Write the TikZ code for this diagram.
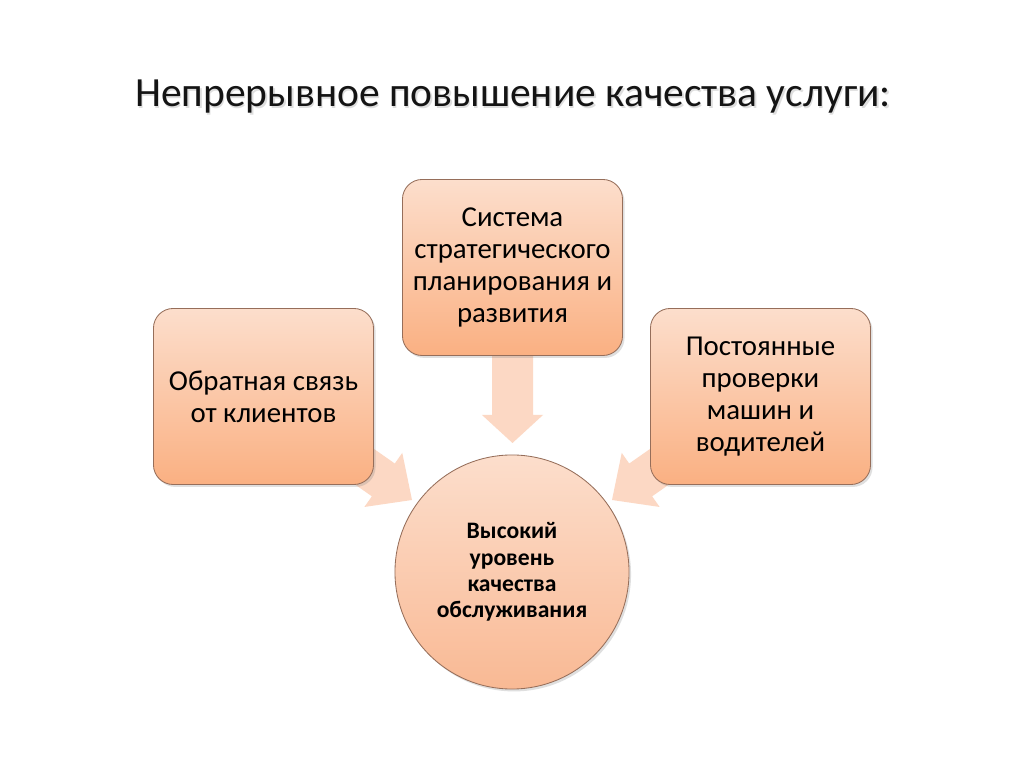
\documentclass[tikz,border=0pt]{standalone}
\usepackage{fontspec}
\setmainfont{Carlito}
\usetikzlibrary{shadows}
\definecolor{boxtop}{RGB}{252,222,204}
\definecolor{boxbot}{RGB}{250,176,130}
\definecolor{boxline}{RGB}{150,110,90}
\definecolor{arrowfill}{RGB}{252,212,190}
\definecolor{titlecol}{RGB}{20,20,20}
\tikzset{
  card/.style={rectangle, rounded corners=14pt, draw=boxline, line width=0.6pt,
    top color=boxtop, bottom color=boxbot, align=center,
    minimum width=5.5cm, minimum height=4.4cm, inner sep=2pt,
    font=\fontsize{20.5}{22.7}\selectfont,
    drop shadow={opacity=0.25, shadow xshift=0.05cm, shadow yshift=-0.06cm}},
  hub/.style={circle, draw=boxline, line width=0.6pt,
    top color=boxtop, bottom color={rgb,255:red,249;green,185;blue,148}, align=center,
    minimum size=5.85cm, inner sep=0pt,
    font=\fontsize{16.8}{18.6}\selectfont\bfseries,
    drop shadow={opacity=0.25, shadow xshift=0.05cm, shadow yshift=-0.06cm}},
  blockarrow/.style={fill=arrowfill, draw=none, opacity=0.9}
}
\begin{document}
\begin{tikzpicture}[x=0.025cm, y=0.025cm]
\useasboundingbox (0,0) rectangle (1024,768);
\fill[white] (0,0) rectangle (1024,768);
% title
\node[font=\fontsize{29.5}{36}\selectfont, text=black!25, opacity=0.5] at (514.5,669.5) {Непрерывное повышение качества услуги:};
\node[font=\fontsize{29.5}{36}\selectfont, text=titlecol] (title) at (513,671) {Непрерывное повышение качества услуги:};
% arrow tips
\coordinate (tipL) at (412,268);
\coordinate (tipR) at (612,268);
\coordinate (tipD) at (512.5,325);
% arrows (behind boxes)
\begin{scope}[shift={(tipL)}, rotate=-35]
  \fill[blockarrow] (0,0) -- (-35,33) -- (-35,20) -- (-120,20) -- (-120,-20) -- (-35,-20) -- (-35,-33) -- cycle;
\end{scope}
\begin{scope}[shift={(tipR)}, rotate=-145]
  \fill[blockarrow] (0,0) -- (-35,33) -- (-35,20) -- (-120,20) -- (-120,-20) -- (-35,-20) -- (-35,-33) -- cycle;
\end{scope}
\begin{scope}[shift={(tipD)}, rotate=-90]
  \fill[blockarrow] (0,0) -- (-28,30.5) -- (-28,20.5) -- (-95,20.5) -- (-95,-20.5) -- (-28,-20.5) -- (-28,-30.5) -- cycle;
\end{scope}
% boxes
\node[card] (left) at (263.5,371.5) {Обратная связь\\от клиентов};
\node[card] (mid) at (512.5,500.5) {Система\\стратегического\\планирования и\\развития};
\node[card] (right) at (760.5,371.5) {Постоянные\\проверки\\машин и\\водителей};
\node[hub] (hub) at (512,196) {Высокий\\уровень\\качества\\обслуживания};
\end{tikzpicture}
\end{document}
